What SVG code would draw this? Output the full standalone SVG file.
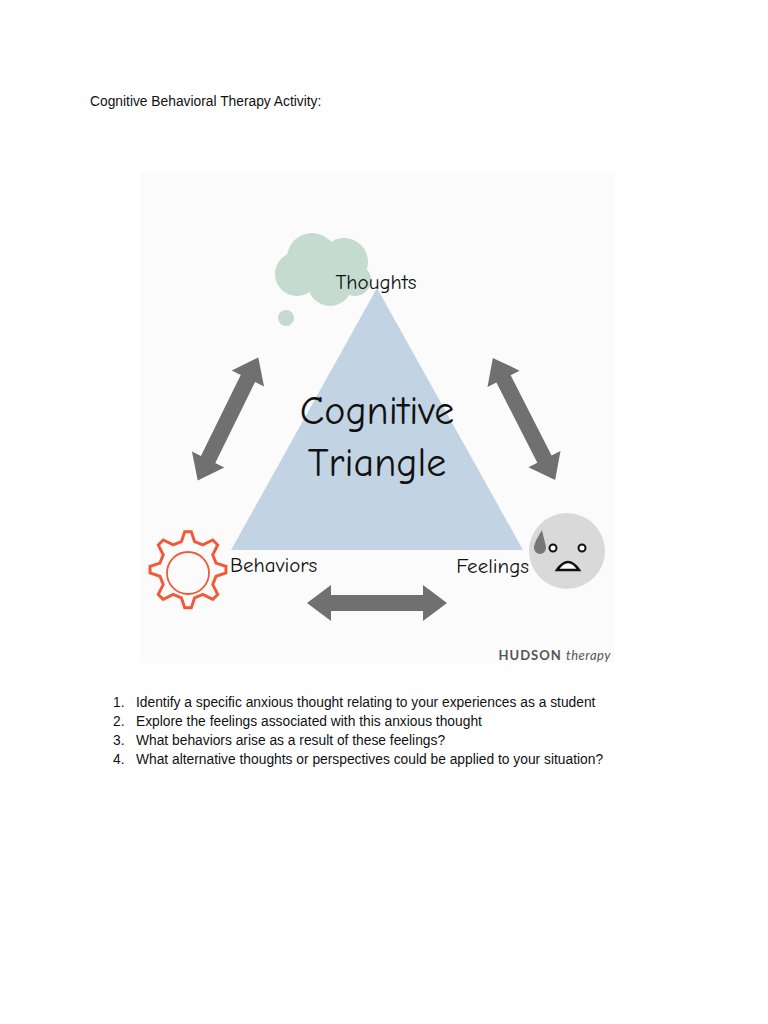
<svg xmlns="http://www.w3.org/2000/svg" width="768" height="1024" viewBox="0 0 768 1024">
<style>
.doc{font-family:"Liberation Sans",Arial,sans-serif;font-size:13.8px;fill:#111}
.hand{font-family:"Comic Neue","DejaVu Sans",sans-serif;fill:#111}
.arr{fill:#707070}
</style>
<defs>
<polygon id="dbl" class="arr" points="-70,0 -46,-18 -46,-8 46,-8 46,-18 70,0 46,18 46,8 -46,8 -46,18"/>
</defs>
<rect width="768" height="1024" fill="#fff"/>
<text class="doc" x="90" y="106">Cognitive Behavioral Therapy Activity:</text>
<rect x="140" y="173" width="474" height="490" fill="#fbfbfb"/>
<g id="connectors">
<use href="#dbl" transform="translate(228,419) rotate(-63.8) scale(0.98,1)"/>
<use href="#dbl" transform="translate(524,419) rotate(63) scale(0.98,1)"/>
<use href="#dbl" transform="translate(377,603)"/>
</g>
<g id="cloud" fill="#c5dbd0">
<circle cx="312" cy="258" r="25"/><circle cx="344" cy="262" r="24"/><circle cx="297" cy="274" r="22"/>
<circle cx="330" cy="284" r="22"/><circle cx="355" cy="280" r="16"/><circle cx="286" cy="318" r="8"/>
</g>
<g id="triangle">
<polygon points="377,288 231,550 523,550" fill="#c2d4e3"/>
<text class="hand" x="377" y="424" font-size="40" text-anchor="middle">Cognitive</text>
<text class="hand" x="377" y="476" font-size="40" text-anchor="middle">Triangle</text>
</g>
<g id="thoughts"><text class="hand" x="376" y="289" font-size="21" text-anchor="middle">Thoughts</text></g>
<g id="behaviors">
<path fill="none" stroke="#f05a3a" stroke-width="1.8" d="M181,531 l4,0 2,6 5,2 6,-3 3,3 -3,6 2,5 6,2 0,4 -6,2 -2,5 3,6 -3,3 -6,-3 -5,2 -2,6 -4,0 -2,-6 -5,-2 -6,3 -3,-3 3,-6 -2,-5 -6,-2 0,-4 6,-2 2,-5 -3,-6 3,-3 6,3 5,-2 2,-6z" transform="translate(188,573) scale(1.65) translate(-183,-556)"/>
<circle cx="188" cy="573" r="21" fill="none" stroke="#f05a3a" stroke-width="1.8"/>
<text class="hand" x="230" y="572" font-size="21">Behaviors</text>
</g>
<g id="feelings">
<circle cx="567" cy="551" r="38" fill="#d9d9d9"/>
<path d="M542,530 c-6,10 -8,14 -8,18 a6,6 0 0 0 12,0 c0,-4 -2,-8 -4,-18z" fill="#777"/>
<circle cx="553" cy="548" r="3.5" fill="#fff" stroke="#111" stroke-width="2"/>
<circle cx="582" cy="548" r="3.5" fill="#fff" stroke="#111" stroke-width="2"/>
<path d="M557,570 q11,-16 22,0z" fill="#fff" stroke="#111" stroke-width="2.5"/>
<text class="hand" x="529" y="573" font-size="21" text-anchor="end">Feelings</text>
</g>
<text x="611" y="660" font-family="Lato,'Open Sans',sans-serif" font-size="13" fill="#555" text-anchor="end" letter-spacing="1"><tspan font-weight="bold">HUDSON</tspan> <tspan font-style="italic" letter-spacing="0.5">therapy</tspan></text>
<g class="doc">
<text x="113" y="707">1.</text><text x="136" y="707">Identify a specific anxious thought relating to your experiences as a student</text>
<text x="113" y="726">2.</text><text x="136" y="726">Explore the feelings associated with this anxious thought</text>
<text x="113" y="745">3.</text><text x="136" y="745">What behaviors arise as a result of these feelings?</text>
<text x="113" y="764">4.</text><text x="136" y="764">What alternative thoughts or perspectives could be applied to your situation?</text>
</g>
</svg>
